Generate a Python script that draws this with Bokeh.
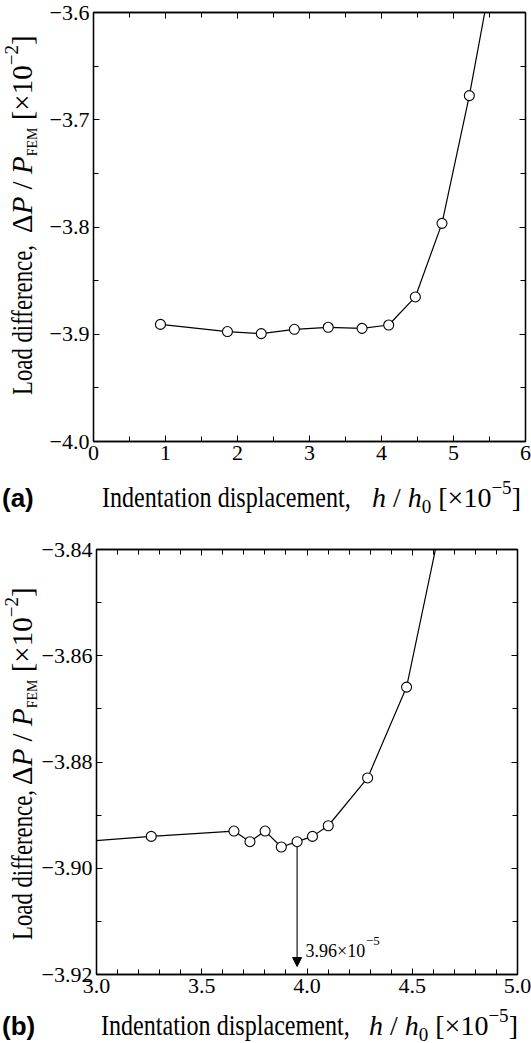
import numpy as np
from bokeh.plotting import figure
from bokeh.models import (Range1d, FixedTicker, LinearAxis, Label, Arrow,
                          NormalHead, CustomJSTickFormatter, Div)
from bokeh.layouts import column, row
from bokeh.embed import file_html
from bokeh.resources import INLINE

# ---------------- data ----------------
# panel (a)
h_a = [0.93, 1.86, 2.33, 2.79, 3.26, 3.73, 4.10, 4.47, 4.84, 5.22, 5.60]
dp_a = [-3.8908, -3.8975, -3.8994, -3.8954, -3.8935, -3.8945, -3.8914,
        -3.8652, -3.7966, -3.6775, -3.54]
xa_ticks = [0, 1, 2, 3, 4, 5, 6]
xa_labels = ["0", "1", "2", "3", "4", "5", "6"]
xa_minor = [0.5, 1.5, 2.5, 3.5, 4.5, 5.5]
ya_ticks = [-4.0, -3.9, -3.8, -3.7, -3.6]
ya_labels = ["\u22124.0", "\u22123.9", "\u22123.8", "\u22123.7", "\u22123.6"]
ya_minor = [-3.95, -3.85, -3.75, -3.65]

# panel (b)
h_b = [2.79, 3.26, 3.653, 3.729, 3.801, 3.878, 3.953, 4.026, 4.101,
       4.288, 4.473, 4.84]
dp_b = [-3.8954, -3.8940, -3.8930, -3.8950, -3.8930, -3.8960, -3.8950,
        -3.8940, -3.8920, -3.8830, -3.8659, -3.7966]
xb_ticks = [3.0, 3.5, 4.0, 4.5, 5.0]
xb_labels = ["3.0", "3.5", "4.0", "4.5", "5.0"]
xb_minor = [3.1, 3.2, 3.3, 3.4, 3.6, 3.7, 3.8, 3.9, 4.1, 4.2, 4.3, 4.4,
            4.6, 4.7, 4.8, 4.9]
yb_ticks = [-3.92, -3.90, -3.88, -3.86, -3.84]
yb_labels = ["\u22123.92", "\u22123.90", "\u22123.88", "\u22123.86", "\u22123.84"]
yb_minor = [-3.91, -3.89, -3.87, -3.85]

min_h_b = 3.953           # location of the minimum (arrow)
min_dp_b = -3.8950
min_note = "3.96\u00d710"
min_note_exp = "\u22125"

# axis titles
ylab_text = "Load difference,"
ylab_math = ("\u0394<i>P</i> / <i>P</i>{sub:FEM} [\u00d710{sup:\u22122}]")
xlab_text = "Indentation displacement,"
xlab_math = ("<i>h</i> / <i>h</i>{sub:0} [\u00d710{sup:\u22125}]")

SERIF = "Liberation Serif"
CSS_SERIF = "'Liberation Serif', 'Times New Roman', serif"
CSS_SANS = "'Liberation Sans', Arial, sans-serif"
ASC_SERIF = 0.8375
ASC_SANS = 0.8465

# frame of panel (b) in page pixels (for the arrow / note positions)
FR_B = dict(left=92, top=549, w=425, h=425, x0=3.0, x1=5.0, y0=-3.92, y1=-3.84)


def to_data(fr, px, py):
    x = fr["x0"] + (px - fr["left"]) / fr["w"] * (fr["x1"] - fr["x0"])
    y = fr["y1"] - (py - fr["top"]) / fr["h"] * (fr["y1"] - fr["y0"])
    return x, y


def fmt(ticks, labels):
    return CustomJSTickFormatter(args=dict(t=ticks, l=labels), code="""
        let b = 0;
        for (let i = 0; i < t.length; i++) {
            if (Math.abs(t[i] - tick) < Math.abs(t[b] - tick)) { b = i; }
        }
        return l[b];""")


def style_axis(ax, ticks, minor, labels, show):
    ax.ticker = FixedTicker(ticks=ticks, minor_ticks=minor)
    ax.major_tick_in = 6
    ax.major_tick_out = 0
    ax.minor_tick_in = 5
    ax.minor_tick_out = 0
    ax.axis_line_color = "black"
    ax.axis_line_width = 1.3
    ax.major_tick_line_color = "black"
    ax.minor_tick_line_color = "black"
    ax.major_tick_line_width = 1
    ax.minor_tick_line_width = 1
    if show:
        ax.formatter = fmt(ticks, labels)
        ax.major_label_text_font = SERIF
        ax.major_label_text_font_size = "22px"
        ax.major_label_text_color = "black"
        ax.major_label_standoff = 4
    else:
        ax.formatter = CustomJSTickFormatter(code="return ''")
        ax.major_label_text_font_size = "0px"
        ax.major_label_text_color = None
        ax.major_label_standoff = 0
        ax.axis_label_standoff = 0


def make_panel(xr, yr, h, dp, xt, xl, xm, yt, yl, ym, width, height, mb):
    p = figure(width=width, height=height,
               x_range=Range1d(*xr), y_range=Range1d(*yr),
               output_backend="svg", toolbar_location=None,
               min_border_left=mb[0], min_border_right=mb[1],
               min_border_top=mb[2], min_border_bottom=mb[3])
    p.grid.visible = False
    p.outline_line_color = "black"
    p.outline_line_width = 1.3
    p.background_fill_color = "white"
    p.border_fill_color = "white"
    style_axis(p.xaxis[0], xt, xm, xl, True)
    style_axis(p.yaxis[0], yt, ym, yl, True)
    top = LinearAxis()
    right = LinearAxis()
    style_axis(top, xt, xm, xl, False)
    style_axis(right, yt, ym, yl, False)
    p.add_layout(top, "above")
    p.add_layout(right, "right")
    p.line(h, dp, line_color="black", line_width=1.2)
    p.scatter(h, dp, marker="circle", size=10, fill_color="white",
              line_color="black", line_width=1.1)
    return p


def math_html(src, sub_size, sub_dy, sup_size, sup_dy):
    out = src
    while "{sub:" in out:
        i = out.index("{sub:")
        j = out.index("}", i)
        out = (out[:i] + '<span style="position:relative;top:%dpx;font-size:%dpx;">%s</span>'
               % (sub_dy, sub_size, out[i + 5:j]) + out[j + 1:])
    while "{sup:" in out:
        i = out.index("{sup:")
        j = out.index("}", i)
        out = (out[:i] + '<span style="position:relative;top:%dpx;font-size:%dpx;">%s</span>'
               % (sup_dy, sup_size, out[i + 5:j]) + out[j + 1:])
    return out


def span(html, size, left, top, font=CSS_SERIF, weight="normal", scale=1.0):
    return ('<span style="position:absolute;left:%.1fpx;top:%.1fpx;display:block;'
            'font-family:%s;font-size:%dpx;line-height:%dpx;font-weight:%s;'
            'white-space:nowrap;color:#000;transform-origin:0 0;'
            'transform:scaleX(%.3f);">%s</span>'
            % (left, top, font, size, size, weight, scale, html))


def ylabel_div(width, height, origin_y, text_start, math_start, base_x):
    # text runs upward; local x (after rotation) = origin_y - page_y
    fs = 29
    inner = span(ylab_text, fs, origin_y - text_start, base_x - ASC_SERIF * fs,
                 scale=0.785)
    inner += span(math_html(ylab_math, 14, 5, 19, -14), fs,
                  origin_y - math_start, base_x - ASC_SERIF * fs)
    html = ('<div style="position:relative;width:%dpx;height:%dpx;">'
            '<div style="position:absolute;left:0px;top:%dpx;width:0;height:0;'
            'transform-origin:0 0;transform:rotate(-90deg);">%s</div></div>'
            % (width, height, origin_y, inner))
    return Div(text=html, width=width, height=height, margin=(0, 0, 0, 0))


def xlabel_div(width, height, tag, base_y, text_x, math_x):
    inner = span(tag, 26, 2, base_y - ASC_SANS * 26, font=CSS_SANS, weight="bold")
    inner += span(xlab_text, 29, text_x, base_y - ASC_SERIF * 29, scale=0.83)
    inner += span(math_html(xlab_math, 19, 6, 19, -13), 28, math_x,
                  base_y - ASC_SERIF * 28)
    html = ('<div style="position:relative;width:%dpx;height:%dpx;">%s</div>'
            % (width, height, inner))
    return Div(text=html, width=width, height=height, margin=(0, 0, 0, 0))


# ---------------- panel (a) ----------------
# page: frame x 93..525, y 12..441
pa = make_panel((0, 6), (-4.0, -3.6), h_a, dp_a, xa_ticks, xa_labels, xa_minor,
                ya_ticks, ya_labels, ya_minor, 493, 471, (55, 6, 12, 30))
ya_div = ylabel_div(38, 471, 400, 395, 233, 32)
xa_div = xlabel_div(531, 49, "(a)", 36, 102, 372)

# ---------------- panel (b) ----------------
# page: frame x 92..517, y 549..974
pb = make_panel((3.0, 5.0), (-3.92, -3.84), h_b, dp_b, xb_ticks, xb_labels,
                xb_minor, yb_ticks, yb_labels, yb_minor, 493, 484,
                (54, 14, 29, 30))
yb_div = ylabel_div(38, 484, 425, 940 - 520, 785 - 520, 32)
xb_div = xlabel_div(531, 39, "(b)", 31, 101, 369)

# arrow marking the minimum
_, tip_y = to_data(FR_B, 0, 966)
pb.add_layout(Arrow(x_start=min_h_b, y_start=min_dp_b, x_end=min_h_b, y_end=tip_y,
                    line_color="black", line_width=1.1, level="underlay",
                    end=NormalHead(size=9, fill_color="black", line_color="black")))
nx, ny = to_data(FR_B, 303, 950)
pb.add_layout(Label(x=nx, y=ny, text=min_note, text_font=SERIF,
                    text_font_size="18px", text_align="left",
                    text_baseline="alphabetic", text_color="black"))
ex, ey = to_data(FR_B, 364, 940)
pb.add_layout(Label(x=ex, y=ey, text=min_note_exp, text_font=SERIF,
                    text_font_size="13px", text_align="left",
                    text_baseline="alphabetic", text_color="black"))

layout = column(row(ya_div, pa, spacing=0), xa_div,
                row(yb_div, pb, spacing=0), xb_div, spacing=0)
open("out.html", "w").write(file_html(layout, INLINE))
